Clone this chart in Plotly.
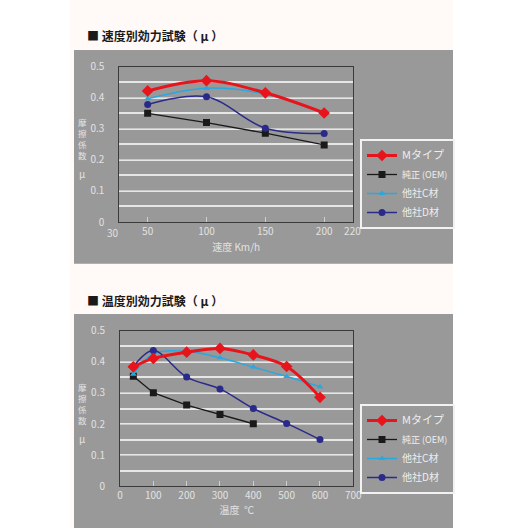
import plotly.graph_objects as go

# === Data ===
speed = [50, 100, 150, 200]
speed_m = [0.422, 0.455, 0.416, 0.351]
speed_oem = [0.350, 0.320, 0.286, 0.248]
speed_c = [0.397, 0.431, 0.412, 0.348]
speed_d = [0.378, 0.403, 0.302, 0.285]

temp = [40, 100, 200, 300, 400, 500, 600]
temp_oem_x = [40, 100, 200, 300, 400]
temp_m = [0.384, 0.411, 0.431, 0.443, 0.422, 0.385, 0.286]
temp_oem = [0.354, 0.301, 0.261, 0.231, 0.201]
temp_c = [0.360, 0.425, 0.434, 0.413, 0.383, 0.353, 0.320]
temp_d = [0.384, 0.436, 0.351, 0.313, 0.250, 0.202, 0.150]

speed_ticks = [50, 100, 150, 200, 224]
speed_ticktext = ["50", "100", "150", "200", "220"]
mu_ticks = [0, 0.1, 0.2, 0.3, 0.4, 0.5]

W = H = 528
FONT = "Noto Sans CJK JP"
GRAY = "#999999"
LIGHT = "#e2e2e2"


def px(x):
    return x / W


def py(y):
    return 1 - y / H


series = [
    # key, legend label, color, symbol, marker size, line width, smooth, rank
    ("OEM", "<span style='font-size:9px'>純正 (OEM)</span>", "#1a1a1a", "square", 7, 1.3, False, 2),
    ("C", "他社C材", "#29a8e0", "triangle-up", 6, 1.5, True, 3),
    ("D", "他社D材", "#2a2a8a", "circle", 7, 1.5, True, 4),
    ("M", "<span style='font-size:11px'>Mタイプ</span>", "#e8141c", "diamond", 9, 3, True, 1),
]

speed_data = {"M": (speed, speed_m), "OEM": (speed, speed_oem),
              "C": (speed, speed_c), "D": (speed, speed_d)}
temp_data = {"M": (temp, temp_m), "OEM": (temp_oem_x, temp_oem),
             "C": (temp, temp_c), "D": (temp, temp_d)}

fig = go.Figure()

for data, xa, ya, lg in [(speed_data, "x", "y", "legend"), (temp_data, "x2", "y2", "legend2")]:
    for key, name, color, symbol, msize, lw, smooth, rank in series:
        xs, ys = data[key]
        fig.add_trace(go.Scatter(
            x=xs, y=ys, name=name, mode="lines+markers",
            line=dict(color=color, width=lw, shape="spline" if smooth else "linear"),
            marker=dict(symbol=symbol, size=msize, color=color),
            xaxis=xa, yaxis=ya, legend=lg, legendrank=rank,
        ))

# === Axes ===
yaxis_common = dict(
    range=[0, 0.5], tickvals=mu_ticks, ticktext=[f"{v:g}" for v in mu_ticks],
    showgrid=True, gridcolor="#c8c8c8", gridwidth=1,
    minor=dict(dtick=0.05, showgrid=True, gridcolor="#e6e6e6", gridwidth=2),
    showline=True, linecolor="#3a3a3a", linewidth=1, mirror=True,
    tickfont=dict(family=FONT, size=10, color=LIGHT),
    ticklabelstandoff=12, zeroline=False, fixedrange=True, automargin=False,
)
xaxis_common = dict(
    showgrid=False, showline=True, linecolor="#3a3a3a", linewidth=1, mirror=True,
    ticks="inside", ticklen=5, tickcolor="#cfcfcf",
    tickfont=dict(family=FONT, size=10, color=LIGHT),
    zeroline=False, fixedrange=True, automargin=False,
)

fig.update_layout(
    width=W, height=H,
    margin=dict(l=0, r=0, t=0, b=0, pad=0, autoexpand=False),
    paper_bgcolor="#ffffff", plot_bgcolor="#ffffff",
    font=dict(family=FONT, color=LIGHT),
    xaxis=dict(xaxis_common, domain=[px(119.3), px(353)], range=[25.9, 224.5],
               tickvals=speed_ticks, ticktext=speed_ticktext, anchor="y",
               title=dict(text="速度 Km/h", font=dict(size=10, color=LIGHT), standoff=6)),
    yaxis=dict(yaxis_common, domain=[py(222), py(66.7)], anchor="x"),
    xaxis2=dict(xaxis_common, domain=[px(120), px(353.3)], range=[0, 700], dtick=100, anchor="y2",
                title=dict(text="温度  ℃", font=dict(size=10, color=LIGHT), standoff=5)),
    yaxis2=dict(yaxis_common, domain=[py(486.3), py(330.7)], anchor="x2"),
)

legend_common = dict(
    bgcolor=GRAY, bordercolor="#f2f2f2", borderwidth=2,
    font=dict(family=FONT, size=10, color="#eeeeee"),
    xanchor="left", yanchor="top", itemwidth=30, tracegroupgap=0,
)
fig.update_layout(
    legend=dict(legend_common, x=px(360), y=py(139)),
    legend2=dict(legend_common, x=px(360), y=py(404)),
)

# === Background panels ===
shapes = [
    dict(x0=px(70), x1=px(453), y0=0, y1=1, fillcolor="#fff9f8"),
    dict(x0=px(74), x1=px(453), y0=py(263.7), y1=py(50), fillcolor=GRAY),
    dict(x0=px(74), x1=px(453), y0=0, y1=py(314), fillcolor=GRAY),
]
for s in shapes:
    fig.add_shape(type="rect", xref="paper", yref="paper", layer="below",
                  line=dict(width=0), **s)

# === Titles and vertical axis labels ===
titles = [("■ 速度別効力試験（ μ ）", 35.7), ("■ 温度別効力試験（ μ ）", 300)]
for text, y in titles:
    fig.add_annotation(text=f"<b>{text}</b>", xref="paper", yref="paper",
                       x=px(85), y=py(y), xanchor="left", yanchor="middle", showarrow=False,
                       font=dict(family=FONT, size=12, color="#1a1a1a"))

# stacked vertical label: 摩擦係数 then μ below a gap
for top in [114, 379]:
    fig.add_annotation(text="摩<br>擦<br>係<br>数", xref="paper", yref="paper",
                       x=px(82), y=py(top), xanchor="center", yanchor="top", showarrow=False,
                       font=dict(family=FONT, size=8.5, color=LIGHT))
    fig.add_annotation(text="μ", xref="paper", yref="paper", x=px(82), y=py(top + 59),
                       xanchor="center", yanchor="middle", showarrow=False,
                       font=dict(family=FONT, size=10, color=LIGHT))

# left-hand "30" label of the speed axis sits outside the plotted range
fig.add_annotation(text="30", xref="paper", yref="paper", x=px(113.3), y=py(232.3),
                   xanchor="center", yanchor="middle", showarrow=False,
                   font=dict(family=FONT, size=10, color=LIGHT))

pin = ("document.body.style.margin='0';"
       "var d=document.getElementById('{plot_id}');"
       "d.style.position='absolute';d.style.top='0';d.style.left='0';")
fig.write_html("out.html", config={"displayModeBar": False}, post_script=pin)
